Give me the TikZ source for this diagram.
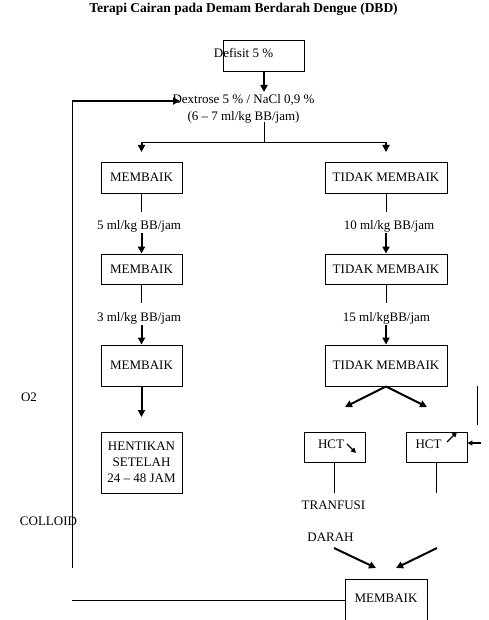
\documentclass[tikz,border=0pt]{standalone}
\usepackage{fontspec}
\setmainfont{Liberation Serif}
\usetikzlibrary{arrows.meta}
\begin{document}
\begin{tikzpicture}[x=1pt,y=-1pt,
  every node/.style={font=\fontsize{13}{15}\selectfont, inner sep=0pt},
  box/.style={draw, line width=0.9pt},
  thin/.style={line width=0.9pt},
  thick arrow/.style={line width=2pt, -{Triangle[length=7pt,width=7pt]}},
  small arrow/.style={line width=1.2pt, -{Triangle[length=5pt,width=5pt]}}]
\useasboundingbox (0,0) rectangle (489,620);
% title
\node[font=\fontsize{13.5}{15}\selectfont\bfseries] (title) at (243.5,9) {Terapi Cairan pada Demam Berdarah Dengue (DBD)};
% defisit
\node[box, minimum width=81pt, minimum height=31pt] (def) at (263.5,55.5) {};
\node (deft) at (243.5,53) {Defisit 5 \%};
\coordinate (dexin) at (264,92);
\draw[thick arrow] (def.south -| dexin) -- (dexin);
\node[align=center, font=\fontsize{13}{17}\selectfont] (dex) at (243.5,108.5) {Dextrose 5 \% / NaCl 0,9 \%\\(6 -- 7 ml/kg BB/jam)};
% left boxes
\node[box, minimum width=81pt, minimum height=31pt] (m1) at (141.5,177.5) {MEMBAIK};
\node[box, minimum width=81pt, minimum height=30pt] (m2) at (141.5,269) {MEMBAIK};
\node[box, minimum width=81pt, minimum height=41pt] (m3) at (141.5,365.5) {MEMBAIK};
\node[box, minimum width=81pt, minimum height=61pt, align=center, font=\fontsize{13}{16}\selectfont] (hent) at (141.5,462.5) {HENTIKAN\\SETELAH\\24 -- 48 JAM};
% right boxes
\node[box, minimum width=122pt, minimum height=31pt] (t1) at (386,177.5) {TIDAK MEMBAIK};
\node[box, minimum width=122pt, minimum height=30pt] (t2) at (386,269) {TIDAK MEMBAIK};
\node[box, minimum width=122pt, minimum height=41pt] (t3) at (386,365.5) {TIDAK MEMBAIK};
\node[box, minimum width=61pt, minimum height=30pt] (h1) at (334.5,447) {};
\node[box, minimum width=61pt, minimum height=30pt] (h2) at (436.5,447) {};
\node (h1t) at (331,444) {HCT};
\node (h2t) at (428.5,444) {HCT};
% split from dextrose
\coordinate (dexout) at (264,122);
\coordinate (split) at (264,142);
\coordinate (sl) at (141.5,142);
\coordinate (sr) at (386,142);
\draw[thin] (dexout) -- (split);
\draw[thin] (sl) -- (sr);
\draw[thick arrow] (sl) -- (141.5,152);
\draw[thick arrow] (sr) -- (386,152);
% rate labels
\node (r1) at (139,226) {5 ml/kg BB/jam};
\node (r2) at (139,318) {3 ml/kg BB/jam};
\node (r3) at (389,226) {10 ml/kg BB/jam};
\node (r4) at (386.5,318) {15 ml/kgBB/jam};
\draw[thin] (m1.south) -- (141.5,212);
\draw[thick arrow] (141.5,233) -- (m2.north);
\draw[thin] (m2.south) -- (141.5,303);
\draw[thick arrow] (141.5,325) -- (m3.north);
\draw[thick arrow] (m3.south) -- (141.5,417);
\draw[thin] (t1.south) -- (386,212);
\draw[thick arrow] (386,233) -- (t2.north);
\draw[thin] (t2.south) -- (386,303);
\draw[thick arrow] (386,325) -- (t3.north);
% split to HCT
\draw[thick arrow] (t3.south) -- (345,407);
\draw[thick arrow] (t3.south) -- (427,407);
% small arrows in HCT boxes
\draw[small arrow] (347,444) -- (356,453);
\draw[small arrow] (447,442) -- (457,432);
% right side return
\coordinate (rv1) at (477,386);
\coordinate (rv2) at (477,425);
\draw[thin] (rv1) -- (rv2);
\draw[small arrow] (481,443) -- (h2.east |- 0,443);
% below HCT
\draw[thin] (334.5,462) -- (334.5,493);
\draw[thin] (436.5,462) -- (436.5,493);
\node (tr) at (333.5,505) {TRANFUSI};
\node (da) at (330.5,537) {DARAH};
% final
\node (fin) at (386,598) {MEMBAIK};
\draw[box] (345,621) -- (345,579) -- (427,579) -- (427,621);
\coordinate (fw) at (345,600);
\draw[thick arrow] (334,548) -- (376,568);
\draw[thick arrow] (437,548) -- (396,568);
% left loop
\coordinate (lt) at (72,101);
\coordinate (lb) at (72,568);
\coordinate (lh) at (72,600);
\draw[thin] (lb) -- (lt);
\draw[thick arrow] (lt) -- (180,101);
\draw[thin] (lh) -- (fw);
\node (o2) at (29,397) {O2};
\node (col) at (48.5,521) {COLLOID};
\end{tikzpicture}
\end{document}
